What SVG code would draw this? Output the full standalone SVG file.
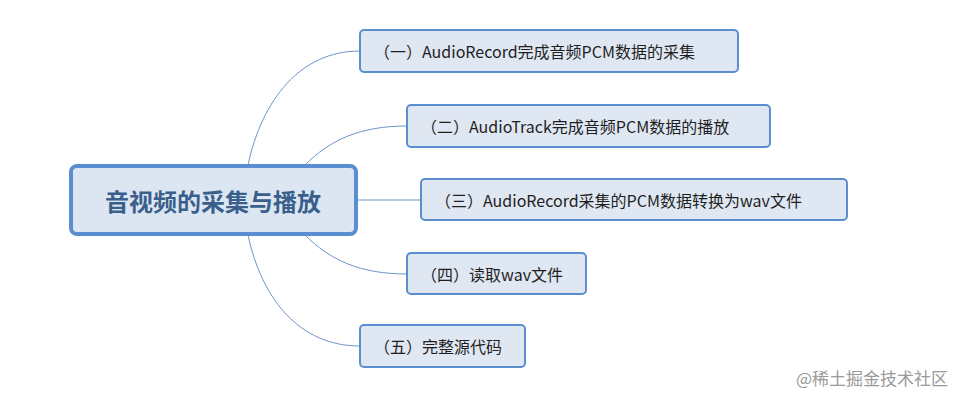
<svg xmlns="http://www.w3.org/2000/svg" width="960" height="409" viewBox="0 0 960 409">
<style>
.n rect{fill:#dfe7f3;stroke:#5b8ed1;stroke-width:2}
.n text{font-family:"Noto Sans CJK SC","Noto Sans",sans-serif;font-size:16px;fill:#1f1f1f;dominant-baseline:central}
#c path{fill:none;stroke:#6f95c9;stroke-width:1}
</style>
<rect width="960" height="409" fill="#fff"/>
<g id="c">
<path d="M248,165 C262,100 300,51 360,51"/>
<path d="M305,165 C330,140 360,126 407,126"/>
<path d="M357,200 L421,200"/>
<path d="M305,235 C330,260 360,274 407,274"/>
<path d="M248,235 C262,300 300,346 360,346"/>
</g>
<g id="root" class="n"><rect x="71" y="166" width="285" height="68" rx="6" style="stroke-width:4;fill:#dce6f2"/><text x="213" y="200" text-anchor="middle" style="font-size:24px;font-weight:bold;fill:#3a5f8c">音视频的采集与播放</text></g>
<g id="n1" class="n"><rect x="360" y="30" width="378" height="42" rx="4"/><text x="374" y="51">（一）AudioRecord完成音频PCM数据的采集</text></g>
<g id="n2" class="n"><rect x="407" y="105" width="363" height="42" rx="4"/><text x="421" y="126">（二）AudioTrack完成音频PCM数据的播放</text></g>
<g id="n3" class="n"><rect x="421" y="179" width="426" height="41" rx="4"/><text x="435" y="200">（三）AudioRecord采集的PCM数据转换为wav文件</text></g>
<g id="n4" class="n"><rect x="407" y="253" width="179" height="41" rx="4"/><text x="421" y="274">（四）读取wav文件</text></g>
<g id="n5" class="n"><rect x="360" y="325" width="165" height="42" rx="4"/><text x="374" y="346">（五）完整源代码</text></g>
<text x="948" y="385" text-anchor="end" style="font-family:'Noto Sans CJK SC',sans-serif;font-size:17px;fill:#9a9a9a">@稀土掘金技术社区</text>
</svg>
